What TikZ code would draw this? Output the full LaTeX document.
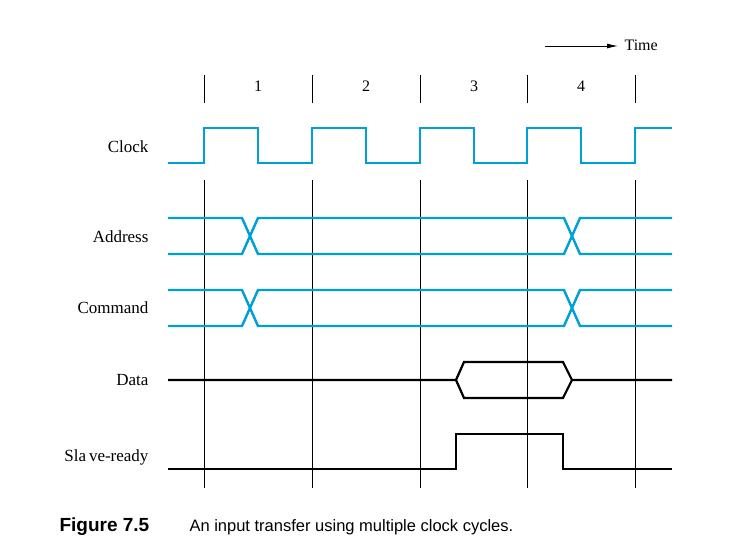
\documentclass[tikz,border=0pt]{standalone}
\usetikzlibrary{arrows.meta}
\usepackage{fontspec}
\setmainfont{Liberation Serif}
\newfontfamily\capfont{Liberation Sans}
\begin{document}
\begin{tikzpicture}[x=1pt,y=-1pt,
  sig/.style={line width=2.4pt,color=sigblue},
  blk/.style={line width=2.2pt,black},
  grid/.style={line width=0.9pt,black},
  lab/.style={anchor=east,font=\fontsize{17}{19}\selectfont},
  num/.style={font=\fontsize{16}{18}\selectfont}]
\definecolor{sigblue}{RGB}{0,160,215}
\useasboundingbox (0,0) rectangle (753,557);
% grid lines
\foreach \x/\n in {204/a,312/b,420/c,527/d,635/e}{
  \coordinate (t\n) at (\x,75); \coordinate (u\n) at (\x,103);
  \coordinate (v\n) at (\x,180); \coordinate (w\n) at (\x,488);
  \draw[grid] (t\n) -- (u\n);
  \draw[grid] (v\n) -- (w\n);
}
\foreach \x/\k in {258/1,366/2,474/3,581/4} \node[num] (n\k) at (\x,86) {\k};
% time arrow
\coordinate (ta) at (545,46); \coordinate (tb) at (618,46);
\draw[line width=0.9pt,-{Latex[length=11pt,width=5pt]}] (ta) -- (tb);
\node[num,anchor=west] (time) at (621,45) {Time};
% labels
\node[lab] (lclk) at (152,147) {Clock};
\node[lab] (ladr) at (152,237) {Address};
\node[lab] (lcmd) at (152,308) {Command};
\node[lab] (ldat) at (152,380) {Data};
\node[lab] (lsr) at (152,457) {Sla\,ve-ready};
% clock
\draw[sig] (168,163) -- (204,163) -- (204,128) -- (258,128) -- (258,163) -- (312,163) -- (312,128) -- (366,128) -- (366,163) -- (420,163) -- (420,128) -- (474,128) -- (474,163) -- (527,163) -- (527,128) -- (581,128) -- (581,163) -- (635,163) -- (635,128) -- (672,128);
% address / command
\foreach \a/\b in {218/254,290/326}{
  \draw[sig] (168,\a) -- (242,\a) -- (258,\b) -- (564,\b) -- (580,\a) -- (672,\a);
  \draw[sig] (168,\b) -- (242,\b) -- (258,\a) -- (564,\a) -- (580,\b) -- (672,\b);
}
% data
\draw[blk] (168,380) -- (456,380) -- (464,362) -- (563,362) -- (572,380) -- (672,380);
\draw[blk] (456,380) -- (464,398) -- (563,398) -- (572,380);
% slave ready
\draw[blk] (168,469) -- (456,469) -- (456,434) -- (563,434) -- (563,469) -- (672,469);
% caption
\node[anchor=west,font=\capfont\bfseries\fontsize{19}{21}\selectfont] (fig) at (56,527) {Figure 7.5};
\node[anchor=west,font=\capfont\fontsize{16.5}{19}\selectfont] (cap) at (186,527) {An input transfer using multiple clock cycles.};
\end{tikzpicture}
\end{document}
